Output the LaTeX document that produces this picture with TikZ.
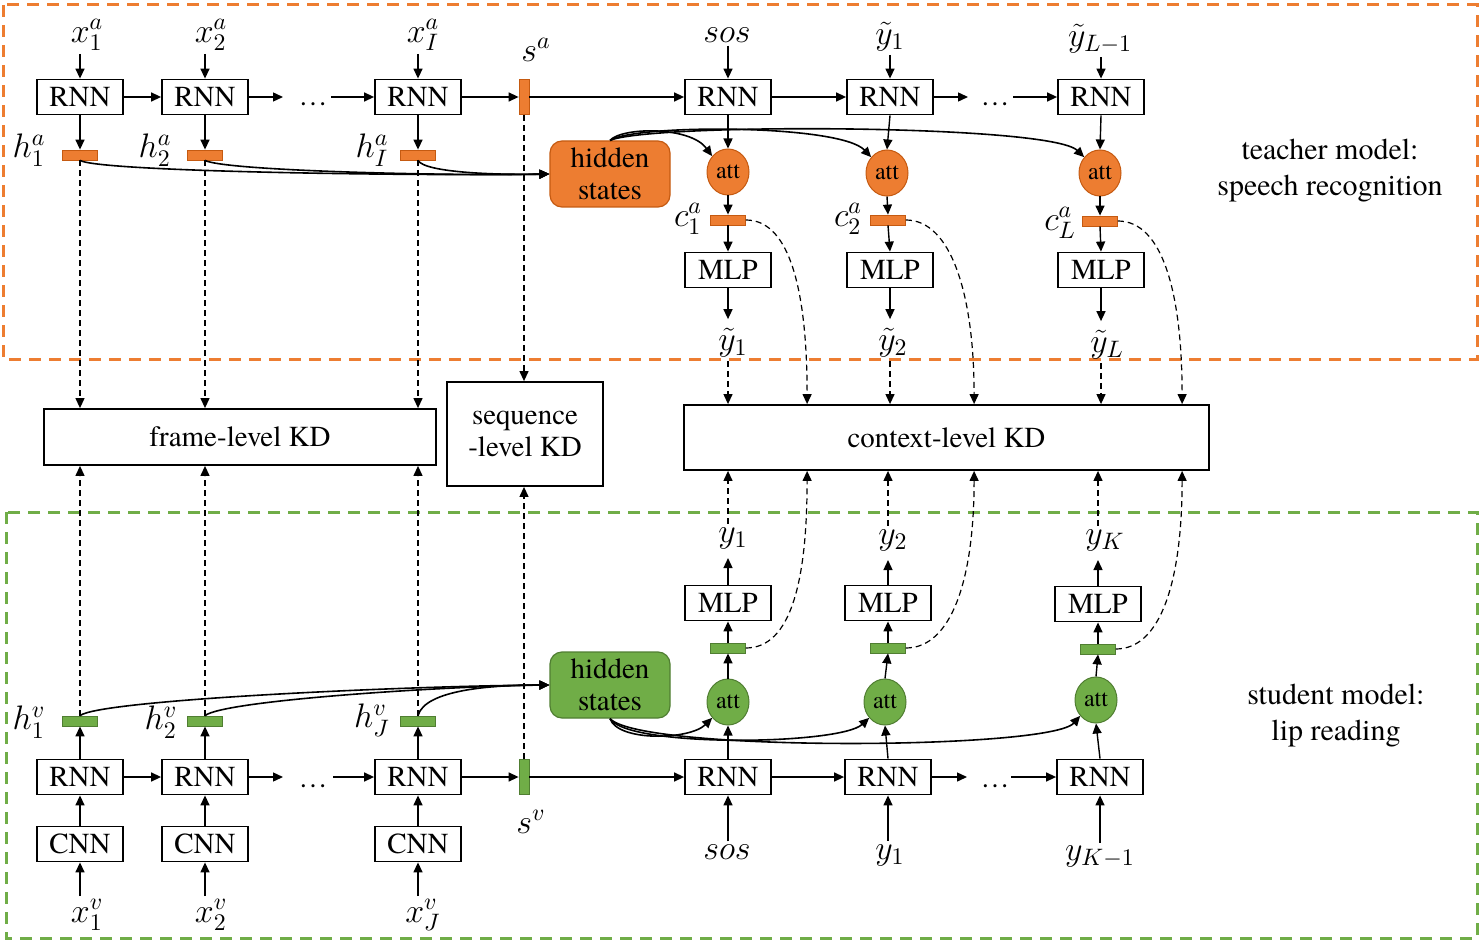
\RequirePackage{fix-cm}
\documentclass[tikz,border=0pt]{standalone}
\usepackage{fontspec}
\IfFontExistsTF{texgyretermes-regular.otf}{%
  \setmainfont{texgyretermes}[Extension=.otf,UprightFont=*-regular,ItalicFont=*-italic,BoldFont=*-bold,BoldItalicFont=*-bolditalic]}{}
\IfFontExistsTF{texgyretermes-math.otf}{%
  \usepackage{unicode-math}\setmathfont{texgyretermes-math.otf}}{}
\usetikzlibrary{arrows.meta,shapes.geometric}
\definecolor{orng}{HTML}{ED7D31}
\definecolor{orngd}{HTML}{C55A11}
\definecolor{grn}{HTML}{70AD47}
\definecolor{grnd}{HTML}{507E32}
\begin{document}
\begin{tikzpicture}[x=0.5pt,y=-0.5pt,
  font=\fontsize{14.5}{16}\selectfont,
  blk/.style={draw, line width=0.9pt, minimum width=43pt, minimum height=17.5pt, inner sep=0pt},
  kd/.style={draw, line width=0.9pt, inner sep=0pt, align=center},
  hbarO/.style={draw=orngd, fill=orng, line width=0.4pt, minimum width=17.5pt, minimum height=5pt, inner sep=0pt},
  hbarG/.style={draw=grnd, fill=grn, line width=0.4pt, minimum width=17.5pt, minimum height=5pt, inner sep=0pt},
  vbarO/.style={draw=orngd, fill=orng, line width=0.4pt, minimum width=5pt, minimum height=17.5pt, inner sep=0pt},
  vbarG/.style={draw=grnd, fill=grn, line width=0.4pt, minimum width=5pt, minimum height=17.5pt, inner sep=0pt},
  attO/.style={ellipse, draw=orngd, fill=orng, line width=0.5pt, minimum width=21pt, minimum height=23pt, inner sep=0pt, font=\fontsize{12}{13}\selectfont},
  attG/.style={ellipse, draw=grnd, fill=grn, line width=0.5pt, minimum width=21pt, minimum height=23pt, inner sep=0pt, font=\fontsize{12}{13}\selectfont},
  hidO/.style={draw=orngd, fill=orng, rounded corners=6pt, line width=0.6pt, minimum width=60pt, minimum height=33pt, inner sep=0pt, align=center},
  hidG/.style={draw=grnd, fill=grn, rounded corners=6pt, line width=0.6pt, minimum width=60pt, minimum height=33pt, inner sep=0pt, align=center},
  lbl/.style={inner sep=1.5pt, font=\fontsize{17}{19}\selectfont},
  arr/.style={-{Triangle[length=5pt,width=4.5pt]}, line width=0.7pt},
  darr/.style={-{Triangle[length=5pt,width=4.5pt]}, line width=0.6pt, dash pattern=on 3pt off 2pt},
  carr/.style={-{Triangle[length=5pt,width=4.5pt]}, line width=0.8pt},
]
\useasboundingbox (0,0) rectangle (1482,941);

% dashed frames
\draw[orng, line width=1.5pt, dash pattern=on 6pt off 4pt] (3,5) rectangle (1477,359);
\draw[grn, line width=1.5pt, dash pattern=on 6pt off 4pt] (6,512) rectangle (1477,938);

% ===================== teacher =====================
\node[blk] (ta1) at (80,97) {RNN};
\node[blk] (ta2) at (205,97) {RNN};
\node[blk] (ta3) at (418,97) {RNN};
\node[lbl] (xa1) at (87,35) {$x_1^a$};
\node[lbl] (xa2) at (211,35) {$x_2^a$};
\node[lbl] (xa3) at (423,35) {$x_I^a$};
\node (tdots1) at (313,104) {…};
\coordinate (ta2o) at (283,97);
\coordinate (ta3i) at (331,97);
\node[vbarO] (sa) at (524,97) {};
\node[lbl] (sal) at (536,50) {$s^a$};

\node[blk] (td1) at (728,97) {RNN};
\node[blk] (td2) at (890,97) {RNN};
\node[blk] (td3) at (1101,97) {RNN};
\node[lbl] (tin1) at (727,35) {$sos$};
\node[lbl] (tin2) at (890,37) {$\tilde{y}_1$};
\node[lbl] (tin3) at (1100,39) {$\tilde{y}_{L-1}$};
\node (tdots2) at (995,104) {…};
\coordinate (td2o) at (968,97);
\coordinate (td3i) at (1013,97);

\node[hbarO] (ha1) at (80,155) {};
\node[hbarO] (ha2) at (205,155) {};
\node[hbarO] (ha3) at (418,155) {};
\node[lbl] (hal1) at (29,150) {$h_1^a$};
\node[lbl] (hal2) at (155,150) {$h_2^a$};
\node[lbl] (hal3) at (372,150) {$h_I^a$};

\node[hidO] (hsa) at (610,174) {hidden\\states};

\node[attO] (aa1) at (728,172) {att};
\node[attO] (aa2) at (887,173) {att};
\node[attO] (aa3) at (1100,173) {att};
\node[hbarO] (ca1) at (728,220) {};
\node[hbarO] (ca2) at (888,220) {};
\node[hbarO] (ca3) at (1100,221) {};
\node[lbl] (cal1) at (688,219) {$c_1^a$};
\node[lbl] (cal2) at (848,219) {$c_2^a$};
\node[lbl] (cal3) at (1060,223) {$c_L^a$};
\node[blk] (ma1) at (728,270) {MLP};
\node[blk] (ma2) at (890,270) {MLP};
\node[blk] (ma3) at (1101,270) {MLP};
\node[lbl] (ya1) at (733,343) {$\tilde{y}_1$};
\node[lbl] (ya2) at (893,343) {$\tilde{y}_2$};
\node[lbl] (ya3) at (1107,345) {$\tilde{y}_L$};

\node[align=center, font=\fontsize{15}{18}\selectfont] (tlab) at (1330,171) {teacher model:\\speech recognition};

% ===================== KD boxes =====================
\node[kd, minimum width=196pt, minimum height=28pt] (fkd) at (240,437) {frame-level KD};
\node[kd, minimum width=78pt, minimum height=52pt] (skd) at (525,434) {sequence\\-level KD};
\node[kd, minimum width=262.5pt, minimum height=32.5pt] (ckd) at (946.5,437.5) {context-level KD};

% ===================== student =====================
\node[blk] (va1) at (80,777) {RNN};
\node[blk] (va2) at (205,777) {RNN};
\node[blk] (va3) at (418,777) {RNN};
\node[blk] (cn1) at (80,844) {CNN};
\node[blk] (cn2) at (205,844) {CNN};
\node[blk] (cn3) at (418,844) {CNN};
\node[lbl] (xv1) at (87,915) {$x_1^v$};
\node[lbl] (xv2) at (211,915) {$x_2^v$};
\node[lbl] (xv3) at (423,915) {$x_J^v$};
\node (vdots1) at (313,786) {…};
\coordinate (va2o) at (283,777);
\coordinate (va3i) at (333,777);
\node[hbarG] (hv1) at (80,721) {};
\node[hbarG] (hv2) at (205,721) {};
\node[hbarG] (hv3) at (418,721) {};
\node[lbl] (hvl1) at (29,722) {$h_1^v$};
\node[lbl] (hvl2) at (161,722) {$h_2^v$};
\node[lbl] (hvl3) at (372,720) {$h_J^v$};
\node[vbarG] (sv) at (524,777) {};
\node[lbl] (svl) at (531,822) {$s^v$};

\node[hidG] (hsv) at (610,685) {hidden\\states};

\node[blk] (vd1) at (728,777) {RNN};
\node[blk] (vd2) at (888,777) {RNN};
\node[blk] (vd3) at (1100,777) {RNN};
\node[lbl] (vin1) at (727,852) {$sos$};
\node[lbl] (vin2) at (890,855) {$y_1$};
\node[lbl] (vin3) at (1100,857) {$y_{K-1}$};
\node (vdots2) at (995,786) {…};
\coordinate (vd2o) at (967,777);
\coordinate (vd3i) at (1011,777);

\node[attG] (av1) at (728,702) {att};
\node[attG] (av2) at (885,702) {att};
\node[attG] (av3) at (1096,700) {att};
\node[hbarG] (cv1) at (728,648) {};
\node[hbarG] (cv2) at (888,648) {};
\node[hbarG] (cv3) at (1098,649) {};
\node[blk] (mv1) at (728,603) {MLP};
\node[blk] (mv2) at (888,603) {MLP};
\node[blk] (mv3) at (1098,604) {MLP};
\node[lbl] (yv1) at (733,538) {$y_1$};
\node[lbl] (yv2) at (893,540) {$y_2$};
\node[lbl] (yv3) at (1105,540) {$y_K$};

\node[align=center, font=\fontsize{15}{18}\selectfont] (slab) at (1336,716) {student model:\\lip reading};

% ===================== teacher connectors =====================
\foreach \i in {1,2,3} {
  \draw[arr] (xa\i.south -| ta\i) -- (ta\i.north);
  \draw[arr] (ta\i.south) -- (ha\i.north);
  \draw[arr] (tin\i.south -| td\i) -- (td\i.north);
  \draw[arr] (td\i.south) -- (aa\i.north);
  \draw[arr] (aa\i.south) -- (ca\i.north);
  \draw[arr] (ca\i.south) -- (ma\i.north);
  \draw[arr, shorten >=3pt] (ma\i.south) -- (ma\i |- ya\i.north);
  \draw[darr] (ha\i.south) -- (ha\i.south |- fkd.north);
  \draw[darr] (ma\i |- ya\i.south) -- (ma\i |- ckd.north);
}
\draw[arr] (ta1.east) -- (ta2.west);
\draw[arr] (ta2.east) -- (ta2o);
\draw[arr] (ta3i) -- (ta3.west);
\draw[arr] (ta3.east) -- (sa.west);
\draw[arr] (sa.east) -- (td1.west);
\draw[arr] (td1.east) -- (td2.west);
\draw[arr] (td2.east) -- (td2o);
\draw[arr] (td3i) -- (td3.west);
\draw[darr] (sa.south) -- (sa.south |- skd.north);

\draw[carr] (ha1.south) .. controls (100,172) and (420,176) .. (hsa.west);
\draw[carr] (ha2.south) .. controls (225,171) and (450,176) .. (hsa.west);
\draw[carr] (ha3.south) .. controls (425,173) and (500,175) .. (hsa.west);

\draw[carr] (hsa.north) .. controls (622,127) and (690,126) .. (aa1.135);
\draw[carr] (hsa.north) .. controls (635,124) and (840,124) .. (aa2.135);
\draw[carr] (hsa.north) .. controls (650,123) and (1050,124) .. (aa3.135);

\draw[darr] (ca1.east) .. controls +(45,0) and +(0,-110) .. ([xshift=62pt]ckd.north west);
\draw[darr] (ca2.east) .. controls +(45,0) and +(0,-110) .. ([xshift=145.5pt]ckd.north west);
\draw[darr] (ca3.east) .. controls +(45,0) and +(0,-110) .. ([xshift=249.5pt]ckd.north west);

% ===================== student connectors =====================
\foreach \i in {1,2,3} {
  \draw[arr] (xv\i.north -| cn\i) -- (cn\i.south);
  \draw[arr] (cn\i.north) -- (va\i.south);
  \draw[arr] (va\i.north) -- (hv\i.south);
  \draw[arr] (vin\i.north -| vd\i) -- (vd\i.south);
  \draw[arr] (vd\i.north) -- (av\i.south);
  \draw[arr] (av\i.north) -- (cv\i.south);
  \draw[arr] (cv\i.north) -- (mv\i.south);
  \draw[arr, shorten >=3pt] (mv\i.north) -- (mv\i |- yv\i.south);
  \draw[darr] (hv\i.north) -- (hv\i.north |- fkd.south);
  \draw[darr] (mv\i |- yv\i.north) -- (mv\i |- ckd.south);
}
\draw[arr] (va1.east) -- (va2.west);
\draw[arr] (va2.east) -- (va2o);
\draw[arr] (va3i) -- (va3.west);
\draw[arr] (va3.east) -- (sv.west);
\draw[arr] (sv.east) -- (vd1.west);
\draw[arr] (vd1.east) -- (vd2.west);
\draw[arr] (vd2.east) -- (vd2o);
\draw[arr] (vd3i) -- (vd3.west);
\draw[darr] (sv.north) -- (sv.north |- skd.south);

\draw[carr] (hv1.north) .. controls (100,700) and (400,686) .. (hsv.west);
\draw[carr] (hv2.north) .. controls (225,700) and (450,686) .. (hsv.west);
\draw[carr] (hv3.north) .. controls (425,690) and (490,685) .. (hsv.west);

\draw[carr] (hsv.south) .. controls (618,742) and (690,740) .. (av1.-135);
\draw[carr] (hsv.south) .. controls (628,748) and (840,745) .. (av2.-135);
\draw[carr] (hsv.south) .. controls (640,752) and (1050,750) .. (av3.-135);

\draw[darr] (cv1.east) .. controls +(45,0) and +(0,110) .. ([xshift=62pt]ckd.south west);
\draw[darr] (cv2.east) .. controls +(45,0) and +(0,110) .. ([xshift=145.5pt]ckd.south west);
\draw[darr] (cv3.east) .. controls +(45,0) and +(0,110) .. ([xshift=249.5pt]ckd.south west);
\end{tikzpicture}
\end{document}
